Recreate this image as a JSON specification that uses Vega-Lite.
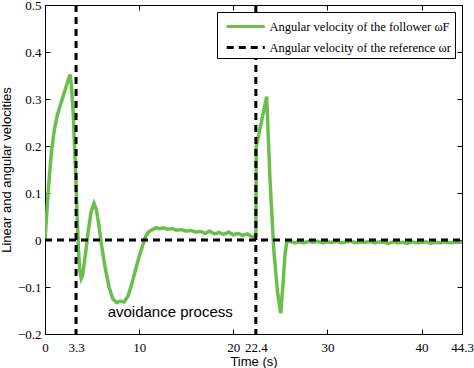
{
  "$schema": "https://vega.github.io/schema/vega-lite/v6.json",
  "width": 417,
  "height": 329,
  "autosize": {"type": "none"},
  "padding": {"left": 45, "top": 5, "right": 12, "bottom": 34},
  "background": "white",
  "config": {
    "view": {"stroke": "black", "strokeWidth": 1},
    "axis": {
      "domainColor": "black",
      "tickColor": "black",
      "labelColor": "black",
      "titleColor": "black",
      "labelFont": "Liberation Serif",
      "labelFontSize": 13,
      "titleFont": "Liberation Sans",
      "titleFontSize": 13,
      "titleFontWeight": "normal",
      "grid": false
    }
  },
  "datasets": {
    "follower": [
      {"t": 0, "v": 0}, {"t": 0.2, "v": 0.06}, {"t": 0.4, "v": 0.12}, {"t": 0.7, "v": 0.19},
      {"t": 1.0, "v": 0.235}, {"t": 1.3, "v": 0.265}, {"t": 1.6, "v": 0.285}, {"t": 2.0, "v": 0.31},
      {"t": 2.3, "v": 0.33}, {"t": 2.66, "v": 0.352}, {"t": 2.8, "v": 0.33}, {"t": 3.0, "v": 0.27},
      {"t": 3.2, "v": 0.17}, {"t": 3.4, "v": 0.06}, {"t": 3.55, "v": -0.02}, {"t": 3.7, "v": -0.065},
      {"t": 3.85, "v": -0.082}, {"t": 4.0, "v": -0.075}, {"t": 4.3, "v": -0.03}, {"t": 4.6, "v": 0.02},
      {"t": 4.9, "v": 0.06}, {"t": 5.2, "v": 0.078}, {"t": 5.45, "v": 0.065}, {"t": 5.7, "v": 0.035},
      {"t": 6.0, "v": -0.01}, {"t": 6.4, "v": -0.06}, {"t": 6.8, "v": -0.1}, {"t": 7.2, "v": -0.125},
      {"t": 7.6, "v": -0.133}, {"t": 8.0, "v": -0.13}, {"t": 8.4, "v": -0.132}, {"t": 8.8, "v": -0.12},
      {"t": 9.2, "v": -0.095}, {"t": 9.6, "v": -0.065}, {"t": 10.0, "v": -0.035}, {"t": 10.4, "v": -0.01},
      {"t": 10.7, "v": 0.008}, {"t": 11.0, "v": 0.017}, {"t": 11.4, "v": 0.022}, {"t": 11.8, "v": 0.026},
      {"t": 12.2, "v": 0.024}, {"t": 12.6, "v": 0.026}, {"t": 13.0, "v": 0.023}, {"t": 13.5, "v": 0.024},
      {"t": 14.0, "v": 0.021}, {"t": 14.5, "v": 0.022}, {"t": 15.0, "v": 0.019}, {"t": 15.5, "v": 0.02},
      {"t": 16.0, "v": 0.017}, {"t": 16.5, "v": 0.018}, {"t": 17.0, "v": 0.014}, {"t": 17.5, "v": 0.019},
      {"t": 18.0, "v": 0.013}, {"t": 18.5, "v": 0.016}, {"t": 19.0, "v": 0.012}, {"t": 19.5, "v": 0.017},
      {"t": 20.0, "v": 0.011}, {"t": 20.5, "v": 0.014}, {"t": 21.0, "v": 0.01}, {"t": 21.5, "v": 0.013},
      {"t": 21.9, "v": 0.008}, {"t": 22.2, "v": 0.006}, {"t": 22.4, "v": 0.01}, {"t": 22.45, "v": 0.2},
      {"t": 23.55, "v": 0.305}, {"t": 23.9, "v": 0.13}, {"t": 24.3, "v": -0.02}, {"t": 24.7, "v": -0.11},
      {"t": 25.04, "v": -0.156}, {"t": 25.3, "v": -0.09}, {"t": 25.5, "v": -0.03}, {"t": 25.7, "v": -0.002},
      {"t": 26.0, "v": -0.003}, {"t": 26.5, "v": -0.006}, {"t": 27.0, "v": -0.004}, {"t": 27.5, "v": -0.006},
      {"t": 28.0, "v": -0.003}, {"t": 28.5, "v": -0.005}, {"t": 29.0, "v": -0.003}, {"t": 29.5, "v": -0.006},
      {"t": 30.0, "v": -0.004}, {"t": 30.5, "v": -0.005}, {"t": 31.0, "v": -0.003}, {"t": 31.5, "v": -0.006},
      {"t": 32.0, "v": -0.004}, {"t": 32.5, "v": -0.003}, {"t": 33.0, "v": -0.006}, {"t": 33.5, "v": -0.004},
      {"t": 34.0, "v": -0.005}, {"t": 34.5, "v": -0.003}, {"t": 35.0, "v": -0.006}, {"t": 35.5, "v": -0.004},
      {"t": 36.0, "v": -0.005}, {"t": 36.5, "v": -0.007}, {"t": 37.0, "v": -0.004}, {"t": 37.5, "v": -0.006},
      {"t": 38.0, "v": -0.005}, {"t": 38.5, "v": -0.007}, {"t": 39.0, "v": -0.004}, {"t": 39.5, "v": -0.006},
      {"t": 40.0, "v": -0.005}, {"t": 40.5, "v": -0.004}, {"t": 41.0, "v": -0.007}, {"t": 41.5, "v": -0.005},
      {"t": 42.0, "v": -0.006}, {"t": 42.5, "v": -0.004}, {"t": 43.0, "v": -0.006}, {"t": 43.5, "v": -0.005},
      {"t": 44.3, "v": -0.005}
    ],
    "reference": [{"t": 0, "v": 0}, {"t": 44.3, "v": 0}],
    "events": [{"t": 3.3}, {"t": 22.4}],
    "notes": [{"t": 13.3, "v": -0.153, "label": "avoidance process"}]
  },
  "layer": [
    {
      "data": {"name": "follower"},
      "mark": {"type": "line", "strokeWidth": 3.5, "clip": true},
      "encoding": {
        "x": {
          "field": "t", "type": "quantitative",
          "scale": {"domain": [0, 44.3], "nice": false, "zero": false},
          "axis": {
            "values": [0, 3.3, 10, 20, 22.4, 30, 40, 44.3],
            "labelExpr": "'' + datum.value",
            "labelFont": "Liberation Serif",
            "labelFontSize": 13,
            "labelFlush": false,
            "labelOverlap": false,
            "labelBaseline": "top",
            "ticks": false,
            "title": "Time (s)",
            "titlePadding": 1,
            "labelPadding": 7
          }
        },
        "y": {
          "field": "v", "type": "quantitative",
          "scale": {"domain": [-0.2, 0.5], "nice": false},
          "axis": {
            "values": [-0.2, -0.1, 0, 0.1, 0.2, 0.3, 0.4, 0.5],
            "labelExpr": "replace('' + datum.value, '-', '−')",
            "labelFont": "Liberation Serif",
            "labelFontSize": 13,
            "labelFlush": false,
            "labelOverlap": false,
            "ticks": false,
            "title": "Linear and angular velocities",
            "titlePadding": 4,
            "labelPadding": 4
          }
        },
        "color": {
          "datum": "Angular velocity of the follower ωF",
          "type": "nominal",
          "scale": {
            "domain": ["Angular velocity of the follower ωF", "Angular velocity of the reference ωr"],
            "range": ["#6abf4b", "black"]
          },
          "legend": {
            "title": null,
            "orient": "none",
            "legendX": 172,
            "legendY": 7,
            "fillColor": "white",
            "strokeColor": "black",
            "padding": 3.5,
            "symbolType": "M-0.5,0H3.5",
            "symbolSize": 361,
            "symbolStrokeWidth": 3,
            "labelOffset": 27,
            "labelFont": "Liberation Serif",
            "labelFontSize": 12.5,
            "labelColor": "black",
            "labelLimit": 300,
            "rowPadding": 3
          }
        },
        "strokeDash": {
          "datum": "Angular velocity of the follower ωF",
          "type": "nominal",
          "scale": {
            "domain": ["Angular velocity of the follower ωF", "Angular velocity of the reference ωr"],
            "range": [[1, 0], [7, 5]]
          },
          "legend": null
        }
      }
    },
    {
      "data": {"name": "reference"},
      "mark": {"type": "line", "strokeWidth": 3},
      "encoding": {
        "x": {"field": "t", "type": "quantitative", "axis": {"orient": "bottom", "values": [0, 3.3, 10, 20, 22.4, 30, 40, 44.3], "labels": false, "title": null, "domain": false, "tickSize": -5}},
        "y": {"field": "v", "type": "quantitative", "axis": {"orient": "left", "values": [-0.2, -0.1, 0, 0.1, 0.2, 0.3, 0.4, 0.5], "labels": false, "title": null, "domain": false, "tickSize": -5}},
        "color": {"datum": "Angular velocity of the reference ωr", "type": "nominal"},
        "strokeDash": {"datum": "Angular velocity of the reference ωr", "type": "nominal"}
      }
    },
    {
      "data": {"name": "events"},
      "mark": {"type": "rule", "strokeWidth": 3, "color": "black", "strokeDash": [7, 5]},
      "encoding": {
        "x": {"field": "t", "type": "quantitative", "axis": null}
      }
    },
    {
      "data": {"name": "notes"},
      "mark": {"type": "text", "font": "Liberation Sans", "fontSize": 15, "color": "black", "align": "center", "baseline": "middle"},
      "encoding": {
        "x": {"field": "t", "type": "quantitative", "axis": {"orient": "top", "values": [0, 3.3, 10, 20, 22.4, 30, 40, 44.3], "labels": false, "title": null, "domain": false, "tickSize": -5}},
        "y": {"field": "v", "type": "quantitative", "axis": {"orient": "right", "values": [-0.2, -0.1, 0, 0.1, 0.2, 0.3, 0.4, 0.5], "labels": false, "title": null, "domain": false, "tickSize": -5}},
        "text": {"field": "label"}
      }
    }
  ],
  "resolve": {"axis": {"x": "independent", "y": "independent"}}
}
